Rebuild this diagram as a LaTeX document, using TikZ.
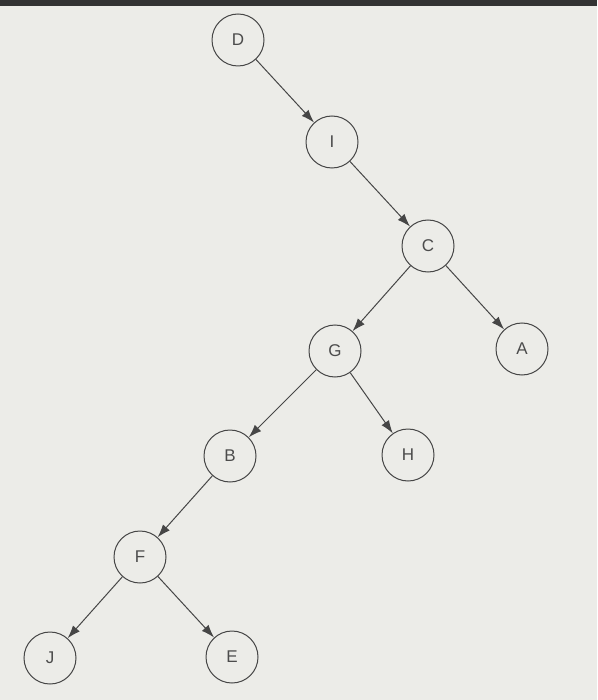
\documentclass[tikz,border=0pt]{standalone}
\usepackage{fontspec}
\setmainfont{Liberation Sans}
\usepackage{tikz}
\usetikzlibrary{arrows.meta}

\definecolor{screen}{RGB}{236,236,232}
\definecolor{edge}{RGB}{70,70,70}

\begin{document}
\begin{tikzpicture}[x=1pt,y=-1pt,
  vertex/.style={draw=edge,line width=1pt,fill=screen,circle,minimum size=52pt,inner sep=0pt,font=\fontsize{17}{17}\selectfont,text=black!70},
  link/.style={draw=edge,line width=1pt,-{Latex[length=13pt,width=9pt]}}]
  %background
  \fill[screen] (0,0) rectangle (597,700);
  \fill[black!80] (0,0) rectangle (597,6);
  \useasboundingbox (0,0) rectangle (597,700);
  %tree
  \node[vertex] (D) at (238,40) {D};
  \node[vertex] (I) at (332,142) {I};
  \node[vertex] (C) at (428,246) {C};
  \node[vertex] (G) at (335,351) {G};
  \node[vertex] (A) at (522,349) {A};
  \node[vertex] (B) at (230,456) {B};
  \node[vertex] (H) at (408,455) {H};
  \node[vertex] (F) at (140,557) {F};
  \node[vertex] (J) at (50,658) {J};
  \node[vertex] (E) at (232,657) {E};
  \draw[link] (D) -- (I);
  \draw[link] (I) -- (C);
  \draw[link] (C) -- (G);
  \draw[link] (C) -- (A);
  \draw[link] (G) -- (B);
  \draw[link] (G) -- (H);
  \draw[link] (B) -- (F);
  \draw[link] (F) -- (J);
  \draw[link] (F) -- (E);
\end{tikzpicture}
\end{document}
